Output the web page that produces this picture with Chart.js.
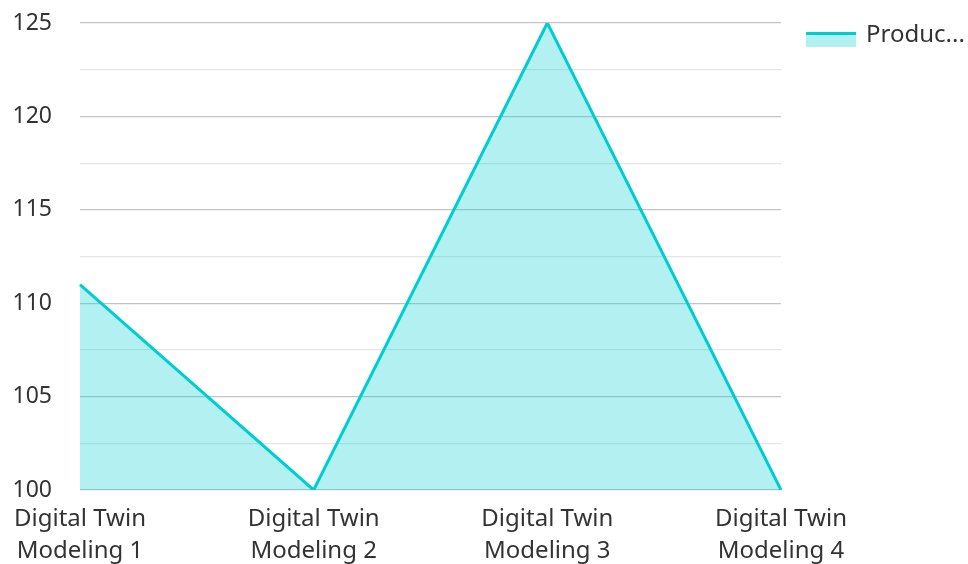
<!DOCTYPE html>
<html>
<head>
<meta charset="utf-8">
<script src="https://cdn.jsdelivr.net/npm/chart.js@4"></script>
<style>
  html, body { margin: 0; padding: 0; background: #fff; }
  #wrap { width: 968px; height: 564px; }
</style>
</head>
<body>
<div id="wrap"><canvas id="chart" width="968" height="564"></canvas></div>
<script>
// Chart values
const categories = [
  ['Digital Twin', 'Modeling 1'],
  ['Digital Twin', 'Modeling 2'],
  ['Digital Twin', 'Modeling 3'],
  ['Digital Twin', 'Modeling 4'],
];
const seriesName = 'Production Output';
const seriesValues = [111, 100, 125, 100];
const yTicks = [100, 105, 110, 115, 120, 125];

const LINE = '#00cdd0';
const FILL = 'rgba(0, 205, 208, 0.3)';
const TEXT = '#333333';
const FONT = '"Noto Sans", "Open Sans", sans-serif';

// legend drawn by hand: cyan bar on top of a light box, label cut to fit
const sideLegend = {
  id: 'sideLegend',
  afterDraw(chart) {
    const ctx = chart.ctx;
    const ds = chart.data.datasets[0];
    const x = 806, y = 32;
    ctx.save();
    ctx.fillStyle = ds.backgroundColor;
    ctx.fillRect(x, y, 50, 15);
    ctx.fillStyle = ds.borderColor;
    ctx.fillRect(x, y, 50, 3);
    ctx.font = '24px ' + FONT;
    ctx.fillStyle = TEXT;
    ctx.textBaseline = 'middle';
    let label = ds.label;
    const maxW = 100;
    if (ctx.measureText(label).width > maxW) {
      while (label.length && ctx.measureText(label + '...').width > maxW) label = label.slice(0, -1);
      label += '...';
    }
    ctx.fillText(label, 866, y + 3);
    ctx.restore();
  },
};

new Chart(document.getElementById('chart'), {
  type: 'line',
  data: {
    labels: categories,
    datasets: [{
      label: seriesName,
      data: seriesValues,
      borderColor: LINE,
      backgroundColor: FILL,
      borderWidth: 3,
      fill: 'origin',
      tension: 0,
      pointRadius: 0,
      pointHoverRadius: 0,
    }],
  },
  options: {
    responsive: false,
    animation: false,
    layout: { padding: { top: 23, right: 187, left: 0, bottom: 0 } },
    plugins: {
      legend: { display: false },
      tooltip: { enabled: false },
    },
    scales: {
      x: {
        offset: false,
        grid: { display: false, drawTicks: false },
        border: { display: false },
        ticks: {
          color: TEXT,
          font: { family: FONT, size: 24, lineHeight: 1.35 },
          padding: 13,
          maxRotation: 0,
          autoSkip: false,
        },
        afterFit(scale) { scale.height = 74; },
      },
      y: {
        min: 100,
        max: 125,
        grid: {
          drawTicks: false,
          lineWidth: 1.2,
          color: ctx => (yTicks.includes(ctx.tick.value) ? '#c4c4c4' : '#e6e6e6'),
        },
        border: { display: false },
        ticks: {
          stepSize: 2.5,
          color: TEXT,
          font: { family: FONT, size: 23 },
          padding: 28,
          callback: v => (yTicks.includes(v) ? v : ''),
        },
        afterFit(scale) {
          scale.width = 80;
          scale.paddingTop = 0;
          scale.paddingBottom = 0;
        },
      },
    },
  },
  plugins: [sideLegend],
});
</script>
</body>
</html>
